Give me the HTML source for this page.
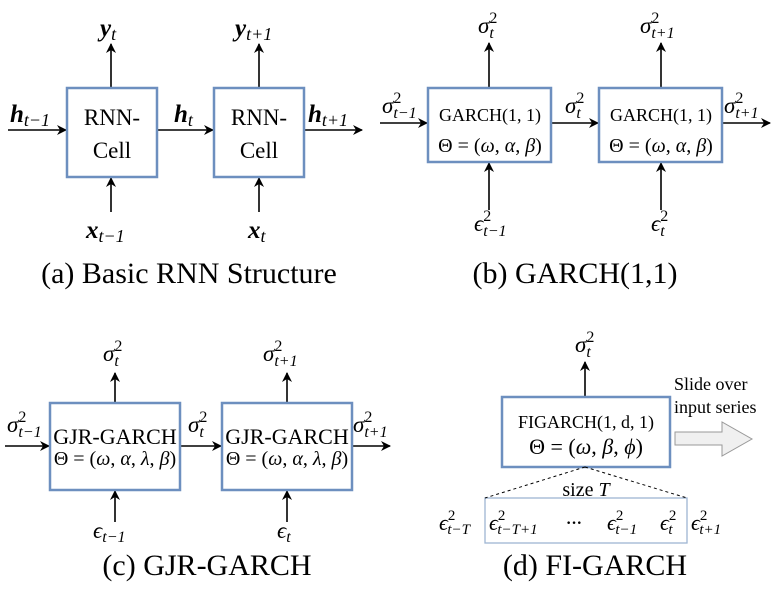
<!DOCTYPE html>
<html><head><meta charset="utf-8"><style>
html,body{margin:0;padding:0;background:#fff}
svg{display:block}
text{font-family:"Liberation Serif",serif;fill:#000}
.m{font-style:italic}
.b{font-weight:bold;font-style:italic}
.cap{font-size:30px;font-family:"Liberation Serif",serif}
</style></head><body>
<svg width="784" height="592" viewBox="0 0 784 592" xmlns="http://www.w3.org/2000/svg">
<defs>
<marker id="ar" markerWidth="10" markerHeight="10" refX="9" refY="5" orient="auto" markerUnits="userSpaceOnUse">
<path d="M0,0 L10,5 L0,10 L3,5 z" fill="#000"/></marker>
</defs>
<g stroke="#000" stroke-width="1.6" fill="none" marker-end="url(#ar)">
<line x1="8" y1="130" x2="66" y2="130"/><line x1="157" y1="130" x2="213" y2="130"/><line x1="304" y1="130" x2="362" y2="130"/>
<line x1="111" y1="88" x2="111" y2="44"/><line x1="259" y1="88" x2="259" y2="44"/>
<line x1="111" y1="212" x2="111" y2="178"/><line x1="259" y1="212" x2="259" y2="178"/>
<line x1="380" y1="123" x2="427" y2="123"/><line x1="551" y1="123" x2="598" y2="123"/><line x1="722" y1="123" x2="770" y2="123"/>
<line x1="489" y1="88" x2="489" y2="43"/><line x1="661" y1="88" x2="661" y2="43"/>
<line x1="489" y1="210" x2="489" y2="163"/><line x1="661" y1="210" x2="661" y2="163"/>
<line x1="5" y1="446" x2="49" y2="446"/><line x1="180" y1="446" x2="221" y2="446"/><line x1="352" y1="446" x2="390" y2="446"/>
<line x1="115" y1="403" x2="115" y2="373"/><line x1="287" y1="403" x2="287" y2="373"/>
<line x1="115" y1="522" x2="115" y2="491"/><line x1="287" y1="522" x2="287" y2="491"/>
<line x1="585" y1="397" x2="585" y2="362"/>
</g>
<g stroke="#6d8fbf" stroke-width="2.5" fill="#fff">
<rect x="67" y="88" width="90" height="89"/><rect x="214" y="88" width="90" height="89"/>
<rect x="428" y="88" width="123" height="74"/><rect x="599" y="88" width="123" height="74"/>
<rect x="50" y="403" width="130" height="87"/><rect x="222" y="403" width="130" height="87"/>
<rect x="502" y="397" width="168" height="70"/>
</g>
<rect x="485" y="498" width="202" height="45" fill="none" stroke="#9fb5d3" stroke-width="1.3"/>
<g stroke="#000" stroke-width="1" stroke-dasharray="3,3"><line x1="585" y1="467" x2="485" y2="498"/><line x1="585" y1="467" x2="687" y2="498"/></g>
<path d="M675,432 L722,432 L722,422 L752,439 L722,456 L722,445 L675,445 z" fill="#f0f0f0" stroke="#999" stroke-width="1"/>

<g font-size="25">
<text x="100" y="36" class="b">y<tspan font-size="18" dy="4" class="m" font-weight="normal">t</tspan></text>
<text x="235" y="36" class="b">y<tspan font-size="18" dy="4" class="m" font-weight="normal">t+1</tspan></text>
<text x="10" y="122" class="b">h<tspan font-size="18" dy="4" class="m" font-weight="normal">t−1</tspan></text>
<text x="174" y="122" class="b">h<tspan font-size="18" dy="4" class="m" font-weight="normal">t</tspan></text>
<text x="308" y="122" class="b">h<tspan font-size="18" dy="4" class="m" font-weight="normal">t+1</tspan></text>
<text x="86" y="238" class="b">x<tspan font-size="18" dy="4" class="m" font-weight="normal">t−1</tspan></text>
<text x="248" y="238" class="b">x<tspan font-size="18" dy="4" class="m" font-weight="normal">t</tspan></text>
</g>
<g font-size="23" text-anchor="middle">
<text x="112" y="125">RNN-</text><text x="112" y="158">Cell</text>
<text x="259" y="125">RNN-</text><text x="259" y="158">Cell</text>
</g>
<text x="189" y="283" class="cap" text-anchor="middle">(a) Basic RNN Structure</text>

<g font-size="23">
<text x="478" y="33" class="m">σ<tspan font-size="16" dy="-10" font-style="normal">2</tspan><tspan font-size="16" dx="-8" dy="15">t</tspan></text>
<text x="640" y="33" class="m">σ<tspan font-size="16" dy="-10" font-style="normal">2</tspan><tspan font-size="16" dx="-8" dy="15">t+1</tspan></text>
<text x="382" y="113" class="m">σ<tspan font-size="16" dy="-10" font-style="normal">2</tspan><tspan font-size="16" dx="-8" dy="15">t−1</tspan></text>
<text x="565" y="113" class="m">σ<tspan font-size="16" dy="-10" font-style="normal">2</tspan><tspan font-size="16" dx="-8" dy="15">t</tspan></text>
<text x="724" y="113" class="m">σ<tspan font-size="16" dy="-10" font-style="normal">2</tspan><tspan font-size="16" dx="-8" dy="15">t+1</tspan></text>
<text x="474" y="231" class="m">ϵ<tspan font-size="16" dy="-10" font-style="normal">2</tspan><tspan font-size="16" dx="-8" dy="15">t−1</tspan></text>
<text x="651" y="231" class="m">ϵ<tspan font-size="16" dy="-10" font-style="normal">2</tspan><tspan font-size="16" dx="-8" dy="15">t</tspan></text>
</g>
<g font-size="18" text-anchor="middle">
<text x="490" y="121">GARCH(1, 1)</text><text x="661" y="121">GARCH(1, 1)</text>
</g>
<g font-size="20" text-anchor="middle">
<text x="490" y="152">Θ = (<tspan class="m">ω</tspan>, <tspan class="m">α</tspan>, <tspan class="m">β</tspan>)</text>
<text x="661" y="152">Θ = (<tspan class="m">ω</tspan>, <tspan class="m">α</tspan>, <tspan class="m">β</tspan>)</text>
</g>
<text x="575" y="283" class="cap" text-anchor="middle">(b) GARCH(1,1)</text>

<g font-size="23">
<text x="103" y="361" class="m">σ<tspan font-size="16" dy="-10" font-style="normal">2</tspan><tspan font-size="16" dx="-8" dy="15">t</tspan></text>
<text x="263" y="361" class="m">σ<tspan font-size="16" dy="-10" font-style="normal">2</tspan><tspan font-size="16" dx="-8" dy="15">t+1</tspan></text>
<text x="7" y="432" class="m">σ<tspan font-size="16" dy="-10" font-style="normal">2</tspan><tspan font-size="16" dx="-8" dy="15">t−1</tspan></text>
<text x="188" y="432" class="m">σ<tspan font-size="16" dy="-10" font-style="normal">2</tspan><tspan font-size="16" dx="-8" dy="15">t</tspan></text>
<text x="353" y="432" class="m">σ<tspan font-size="16" dy="-10" font-style="normal">2</tspan><tspan font-size="16" dx="-8" dy="15">t+1</tspan></text>
<text x="93" y="538" class="m">ϵ<tspan font-size="16" dy="4">t−1</tspan></text>
<text x="277" y="538" class="m">ϵ<tspan font-size="16" dy="4">t</tspan></text>
</g>
<g font-size="22" text-anchor="middle">
<text x="115" y="444">GJR-GARCH</text><text x="287" y="444">GJR-GARCH</text>
</g>
<g font-size="20" text-anchor="middle">
<text x="115" y="465">Θ = (<tspan class="m">ω</tspan>, <tspan class="m">α</tspan>, <tspan class="m">λ</tspan>, <tspan class="m">β</tspan>)</text>
<text x="287" y="465">Θ = (<tspan class="m">ω</tspan>, <tspan class="m">α</tspan>, <tspan class="m">λ</tspan>, <tspan class="m">β</tspan>)</text>
</g>
<text x="207" y="575" class="cap" text-anchor="middle">(c) GJR-GARCH</text>

<g font-size="23">
<text x="575" y="352" class="m">σ<tspan font-size="16" dy="-10" font-style="normal">2</tspan><tspan font-size="16" dx="-8" dy="15">t</tspan></text>
</g>
<g font-size="18">
<text x="674" y="390">Slide over</text><text x="674" y="413">input series</text>
</g>
<text x="586" y="428" font-size="18" text-anchor="middle">FIGARCH(1, d, 1)</text>
<text x="586" y="454" font-size="22" text-anchor="middle">Θ = (<tspan class="m">ω</tspan>, <tspan class="m">β</tspan>, <tspan class="m">ϕ</tspan>)</text>
<text x="586" y="496" font-size="20" text-anchor="middle">size <tspan class="m">T</tspan></text>
<g font-size="22">
<text x="439" y="530" class="m">ϵ<tspan font-size="15" dy="-10" font-style="normal">2</tspan><tspan font-size="15" dx="-8" dy="14">t−T</tspan></text>
<text x="489" y="530" class="m">ϵ<tspan font-size="15" dy="-10" font-style="normal">2</tspan><tspan font-size="15" dx="-8" dy="14">t−T+1</tspan></text>
<text x="566" y="528" font-weight="bold" font-size="16">···</text>
<text x="607" y="530" class="m">ϵ<tspan font-size="15" dy="-10" font-style="normal">2</tspan><tspan font-size="15" dx="-8" dy="14">t−1</tspan></text>
<text x="660" y="530" class="m">ϵ<tspan font-size="15" dy="-10" font-style="normal">2</tspan><tspan font-size="15" dx="-8" dy="14">t</tspan></text>
<text x="691" y="530" class="m">ϵ<tspan font-size="15" dy="-10" font-style="normal">2</tspan><tspan font-size="15" dx="-8" dy="14">t+1</tspan></text>
</g>
<text x="595" y="575" class="cap" text-anchor="middle">(d) FI-GARCH</text>
</svg>
</body></html>
